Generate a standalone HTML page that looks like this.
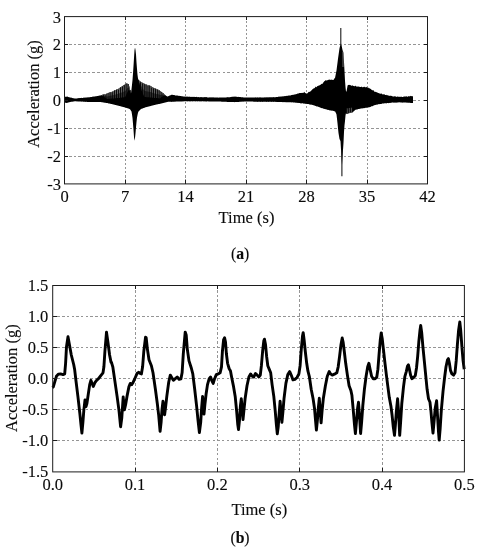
<!DOCTYPE html>
<html lang="en"><head><meta charset="utf-8"><title>Acceleration time histories</title>
<style>html,body{margin:0;padding:0;background:#fff;}svg{display:block;}text{font-family:"Liberation Serif", "Times New Roman", serif;fill:#0a0a0a;stroke:#0a0a0a;stroke-width:0.12px;}</style></head><body>
<svg width="478" height="550" viewBox="0 0 478 550">
<rect width="478" height="550" fill="#fff"/>
<line x1="125.00" y1="16.60" x2="125.00" y2="183.90" stroke="#959595" stroke-width="1" stroke-dasharray="2.2 1.87" shape-rendering="crispEdges"/>
<line x1="185.50" y1="16.60" x2="185.50" y2="183.90" stroke="#959595" stroke-width="1" stroke-dasharray="2.2 1.87" shape-rendering="crispEdges"/>
<line x1="246.00" y1="16.60" x2="246.00" y2="183.90" stroke="#959595" stroke-width="1" stroke-dasharray="2.2 1.87" shape-rendering="crispEdges"/>
<line x1="306.50" y1="16.60" x2="306.50" y2="183.90" stroke="#959595" stroke-width="1" stroke-dasharray="2.2 1.87" shape-rendering="crispEdges"/>
<line x1="367.00" y1="16.60" x2="367.00" y2="183.90" stroke="#959595" stroke-width="1" stroke-dasharray="2.2 1.87" shape-rendering="crispEdges"/>
<line x1="64.50" y1="44.48" x2="427.50" y2="44.48" stroke="#959595" stroke-width="1" stroke-dasharray="2.5 2.15" shape-rendering="crispEdges"/>
<line x1="64.50" y1="72.37" x2="427.50" y2="72.37" stroke="#959595" stroke-width="1" stroke-dasharray="2.5 2.15" shape-rendering="crispEdges"/>
<line x1="64.50" y1="100.25" x2="427.50" y2="100.25" stroke="#959595" stroke-width="1" stroke-dasharray="2.5 2.15" shape-rendering="crispEdges"/>
<line x1="64.50" y1="128.13" x2="427.50" y2="128.13" stroke="#959595" stroke-width="1" stroke-dasharray="2.5 2.15" shape-rendering="crispEdges"/>
<line x1="64.50" y1="156.02" x2="427.50" y2="156.02" stroke="#959595" stroke-width="1" stroke-dasharray="2.5 2.15" shape-rendering="crispEdges"/>
<polygon fill="#000" points="65.0,96.8 65.5,96.7 66.0,96.7 66.5,96.7 67.0,96.6 67.5,96.5 68.0,96.9 68.5,96.9 69.0,97.2 69.5,97.3 70.0,97.6 70.5,97.5 71.0,97.8 71.5,97.6 72.0,98.0 72.5,97.9 73.0,98.2 73.5,98.2 74.0,98.3 74.5,98.5 75.0,98.5 75.5,98.4 76.0,98.5 76.5,98.4 77.0,98.4 77.5,98.2 78.0,98.3 78.5,98.1 79.0,98.2 79.5,97.9 80.0,98.1 80.5,97.9 81.0,98.1 81.5,97.8 82.0,98.0 82.5,97.9 83.0,97.9 83.5,97.6 84.0,97.8 84.5,97.6 85.0,97.7 85.5,97.5 86.0,97.6 86.5,97.4 87.0,97.5 87.5,97.3 88.0,97.4 88.5,97.3 89.0,97.3 89.5,97.2 90.0,97.2 90.5,97.0 91.0,97.0 91.5,96.9 92.0,96.9 92.5,96.5 93.0,96.7 93.5,96.6 94.0,96.6 94.5,96.4 95.0,96.4 95.5,96.2 96.0,96.3 96.5,96.3 97.0,96.1 97.5,96.0 98.0,95.9 98.5,95.8 99.0,95.8 99.5,95.6 100.0,95.6 100.5,95.5 101.0,95.3 101.5,95.2 102.0,95.1 102.5,95.0 103.0,94.8 103.5,94.7 104.0,94.6 104.5,94.5 105.0,94.3 105.5,94.2 106.0,94.1 106.5,94.0 107.0,93.8 107.5,93.6 108.0,93.4 108.5,93.2 109.0,93.0 109.5,92.8 110.0,92.6 110.5,92.4 111.0,92.2 111.5,92.1 112.0,91.9 112.5,91.7 113.0,91.5 113.5,91.2 114.0,91.0 114.5,90.8 115.0,90.5 115.5,90.3 116.0,90.1 116.5,89.9 117.0,89.6 117.5,89.4 118.0,89.2 118.5,88.9 119.0,88.6 119.5,88.3 120.0,88.0 120.5,87.7 121.0,87.3 121.5,87.0 122.0,86.7 122.5,86.3 123.0,86.0 123.5,85.7 124.0,85.3 124.5,85.0 125.0,84.7 125.5,84.3 126.0,84.0 126.5,83.8 127.0,83.6 127.5,83.9 128.0,84.2 128.5,84.5 129.0,85.8 129.5,87.8 130.0,89.8 130.5,91.7 131.0,93.5 131.5,89.2 132.0,84.7 132.5,80.1 133.0,73.6 133.5,66.0 134.0,58.1 134.5,50.2 135.0,47.6 135.5,50.0 136.0,54.6 136.5,62.4 137.0,69.0 137.5,74.7 138.0,78.6 138.5,79.7 139.0,80.8 139.5,81.2 140.0,81.5 140.5,81.8 141.0,82.1 141.5,82.4 142.0,82.7 142.5,82.9 143.0,83.2 143.5,83.4 144.0,83.7 144.5,83.9 145.0,84.2 145.5,84.4 146.0,84.6 146.5,84.8 147.0,85.0 147.5,85.1 148.0,85.3 148.5,85.5 149.0,85.7 149.5,85.8 150.0,86.0 150.5,86.3 151.0,86.5 151.5,86.8 152.0,87.1 152.5,87.4 153.0,87.7 153.5,87.9 154.0,88.2 154.5,88.4 155.0,88.6 155.5,88.8 156.0,89.0 156.5,89.2 157.0,89.4 157.5,89.6 158.0,89.8 158.5,90.1 159.0,90.4 159.5,90.8 160.0,91.2 160.5,91.5 161.0,91.9 161.5,92.2 162.0,92.6 162.5,93.0 163.0,93.4 163.5,93.8 164.0,94.3 164.5,94.7 165.0,95.1 165.5,95.4 166.0,95.7 166.5,96.0 167.0,96.3 167.5,96.6 168.0,96.5 168.5,96.0 169.0,95.9 169.5,95.6 170.0,95.4 170.5,95.3 171.0,95.0 171.5,94.8 172.0,94.7 172.5,94.7 173.0,95.0 173.5,95.1 174.0,95.1 174.5,95.0 175.0,95.4 175.5,95.4 176.0,95.5 176.5,95.6 177.0,95.6 177.5,95.6 178.0,95.8 178.5,95.7 179.0,95.9 179.5,95.8 180.0,96.1 180.5,96.0 181.0,96.1 181.5,96.2 182.0,96.3 182.5,96.2 183.0,96.4 183.5,96.6 184.0,96.5 184.5,96.4 185.0,96.7 185.5,96.5 186.0,96.7 186.5,96.5 187.0,96.8 187.5,96.6 188.0,96.8 188.5,96.8 189.0,96.8 189.5,96.6 190.0,96.9 190.5,96.8 191.0,96.9 191.5,96.8 192.0,96.9 192.5,96.8 193.0,97.0 193.5,96.8 194.0,97.0 194.5,96.7 195.0,97.0 195.5,96.9 196.0,97.0 196.5,96.8 197.0,97.1 197.5,97.2 198.0,97.1 198.5,97.0 199.0,97.2 199.5,97.2 200.0,97.2 200.5,97.1 201.0,97.2 201.5,97.0 202.0,97.3 202.5,97.2 203.0,97.2 203.5,97.2 204.0,97.3 204.5,97.0 205.0,97.3 205.5,97.1 206.0,97.3 206.5,97.1 207.0,97.3 207.5,97.4 208.0,97.4 208.5,97.4 209.0,97.4 209.5,97.3 210.0,97.4 210.5,97.2 211.0,97.5 211.5,97.3 212.0,97.5 212.5,97.3 213.0,97.5 213.5,97.3 214.0,97.5 214.5,97.5 215.0,97.5 215.5,97.6 216.0,97.6 216.5,97.6 217.0,97.6 217.5,97.4 218.0,97.6 218.5,97.7 219.0,97.6 219.5,97.5 220.0,97.6 220.5,97.6 221.0,97.6 221.5,97.4 222.0,97.5 222.5,97.6 223.0,97.6 223.5,97.5 224.0,97.6 224.5,97.4 225.0,97.6 225.5,97.6 226.0,97.5 226.5,97.2 227.0,97.4 227.5,97.1 228.0,97.3 228.5,97.2 229.0,97.2 229.5,97.2 230.0,97.2 230.5,97.0 231.0,97.0 231.5,96.8 232.0,96.9 232.5,96.6 233.0,96.9 233.5,96.6 234.0,96.8 234.5,96.5 235.0,96.7 235.5,96.6 236.0,96.7 236.5,96.7 237.0,96.8 237.5,96.9 238.0,96.9 238.5,96.7 239.0,97.0 239.5,97.0 240.0,97.1 240.5,96.9 241.0,97.2 241.5,97.3 242.0,97.3 242.5,97.3 243.0,97.3 243.5,97.4 244.0,97.4 244.5,97.4 245.0,97.5 245.5,97.4 246.0,97.6 246.5,97.4 247.0,97.6 247.5,97.6 248.0,97.6 248.5,97.6 249.0,97.6 249.5,97.4 250.0,97.6 250.5,97.5 251.0,97.5 251.5,97.4 252.0,97.6 252.5,97.4 253.0,97.6 253.5,97.6 254.0,97.6 254.5,97.4 255.0,97.6 255.5,97.3 256.0,97.6 256.5,97.6 257.0,97.5 257.5,97.3 258.0,97.6 258.5,97.5 259.0,97.5 259.5,97.3 260.0,97.5 260.5,97.2 261.0,97.5 261.5,97.5 262.0,97.5 262.5,97.4 263.0,97.5 263.5,97.4 264.0,97.5 264.5,97.2 265.0,97.5 265.5,97.3 266.0,97.4 266.5,97.2 267.0,97.3 267.5,97.3 268.0,97.4 268.5,97.2 269.0,97.3 269.5,97.3 270.0,97.3 270.5,97.3 271.0,97.3 271.5,97.3 272.0,97.2 272.5,97.3 273.0,97.2 273.5,96.9 274.0,97.2 274.5,97.2 275.0,97.2 275.5,97.2 276.0,97.1 276.5,97.1 277.0,97.0 277.5,97.0 278.0,96.9 278.5,96.6 279.0,96.8 279.5,96.6 280.0,96.7 280.5,96.6 281.0,96.6 281.5,96.4 282.0,96.5 282.5,96.3 283.0,96.4 283.5,96.3 284.0,96.3 284.5,96.1 285.0,96.2 285.5,96.0 286.0,96.0 286.5,95.7 287.0,95.9 287.5,95.7 288.0,95.7 288.5,95.5 289.0,95.5 289.5,95.4 290.0,95.4 290.5,95.4 291.0,95.2 291.5,94.9 292.0,95.1 292.5,94.7 293.0,94.9 293.5,94.7 294.0,94.6 294.5,94.5 295.0,94.4 295.5,94.3 296.0,94.2 296.5,94.1 297.0,94.0 297.5,93.6 298.0,93.6 298.5,93.5 299.0,93.3 299.5,93.1 300.0,92.9 300.5,92.9 301.0,92.9 301.5,92.9 302.0,92.8 302.5,92.9 303.0,92.7 303.5,92.8 304.0,92.6 304.5,91.8 305.0,92.9 305.5,92.9 306.0,93.4 306.5,93.6 307.0,93.5 307.5,93.3 308.0,92.8 308.5,91.8 309.0,92.3 309.5,91.7 310.0,91.7 310.5,91.2 311.0,90.9 311.5,90.3 312.0,90.1 312.5,89.1 313.0,89.3 313.5,88.2 314.0,88.4 314.5,88.1 315.0,87.7 315.5,86.6 316.0,87.1 316.5,87.2 317.0,86.6 317.5,85.9 318.0,86.1 318.5,85.6 319.0,85.7 319.5,85.3 320.0,85.1 320.5,84.7 321.0,84.5 321.5,83.7 322.0,84.1 322.5,83.7 323.0,83.0 323.5,82.3 324.0,81.8 324.5,80.9 325.0,80.9 325.5,79.9 326.0,80.6 326.5,80.6 327.0,80.2 327.5,80.3 328.0,80.0 328.5,79.7 329.0,79.8 329.5,79.6 330.0,79.8 330.5,79.8 331.0,79.9 331.5,79.4 332.0,79.8 332.5,79.9 333.0,79.8 333.5,80.0 334.0,79.3 334.5,78.3 335.0,78.0 335.5,75.6 336.0,73.1 336.5,70.6 337.0,66.6 337.5,62.7 338.0,58.7 338.5,55.2 339.0,51.8 339.5,48.3 340.0,46.2 340.5,44.4 341.0,43.4 341.5,44.9 342.0,47.5 342.5,50.1 343.0,51.4 343.5,52.8 344.0,61.9 344.5,71.1 345.0,80.7 345.5,87.0 346.0,91.5 346.5,91.5 347.0,88.7 347.5,86.1 348.0,84.8 348.5,85.1 349.0,85.1 349.5,84.8 350.0,85.2 350.5,85.1 351.0,85.5 351.5,85.7 352.0,85.7 352.5,85.2 353.0,85.8 353.5,86.0 354.0,86.1 354.5,86.2 355.0,86.3 355.5,85.6 356.0,86.3 356.5,86.5 357.0,86.7 357.5,86.5 358.0,86.6 358.5,86.5 359.0,86.8 359.5,86.8 360.0,86.9 360.5,86.9 361.0,87.0 361.5,86.5 362.0,87.0 362.5,87.2 363.0,87.2 363.5,86.8 364.0,87.2 364.5,86.6 365.0,87.3 365.5,87.3 366.0,87.3 366.5,86.7 367.0,87.6 367.5,87.5 368.0,87.9 368.5,87.6 369.0,88.4 369.5,87.9 370.0,88.7 370.5,88.8 371.0,89.3 371.5,89.7 372.0,89.9 372.5,90.2 373.0,90.5 373.5,90.1 374.0,91.2 374.5,91.8 375.0,91.8 375.5,91.8 376.0,92.3 376.5,92.0 377.0,92.6 377.5,92.6 378.0,92.9 378.5,93.1 379.0,93.2 379.5,93.6 380.0,93.6 380.5,93.8 381.0,93.8 381.5,93.3 382.0,94.2 382.5,94.3 383.0,94.4 383.5,93.9 384.0,94.7 384.5,94.0 385.0,94.9 385.5,95.1 386.0,95.0 386.5,94.7 387.0,95.4 387.5,94.9 388.0,95.6 388.5,95.6 389.0,95.8 389.5,95.8 390.0,96.0 390.5,95.5 391.0,96.1 391.5,95.7 392.0,96.3 392.5,96.2 393.0,96.5 393.5,96.5 394.0,96.5 394.5,95.9 395.0,96.7 395.5,96.3 396.0,96.6 396.5,96.9 397.0,96.8 397.5,96.3 398.0,96.9 398.5,96.6 399.0,97.1 399.5,96.4 400.0,97.2 400.5,96.5 401.0,97.1 401.5,96.6 402.0,97.0 402.5,96.9 403.0,97.0 403.5,96.6 404.0,96.7 404.5,96.2 405.0,96.7 405.5,96.3 406.0,96.8 406.5,96.0 407.0,96.7 407.5,96.7 408.0,96.5 408.5,96.1 409.0,96.5 409.5,96.3 410.0,96.3 410.5,95.7 411.0,96.2 411.5,95.9 412.0,96.2 412.5,96.2 413.0,96.2 413.0,102.9 412.5,102.9 412.0,102.9 411.5,103.0 411.0,102.9 410.5,103.0 410.0,102.8 409.5,102.8 409.0,102.7 408.5,102.7 408.0,102.7 407.5,102.7 407.0,102.6 406.5,102.7 406.0,102.6 405.5,102.6 405.0,102.5 404.5,102.6 404.0,102.5 403.5,102.5 403.0,102.4 402.5,102.7 402.0,102.4 401.5,102.4 401.0,102.4 400.5,102.4 400.0,102.3 399.5,102.3 399.0,102.4 398.5,102.3 398.0,102.4 397.5,102.4 397.0,102.4 396.5,102.8 396.0,102.5 395.5,102.7 395.0,102.5 394.5,102.8 394.0,102.6 393.5,102.8 393.0,102.6 392.5,102.5 392.0,102.6 391.5,102.7 391.0,102.7 390.5,102.9 390.0,102.8 389.5,103.0 389.0,102.9 388.5,103.2 388.0,103.0 387.5,103.0 387.0,103.1 386.5,103.5 386.0,103.2 385.5,103.2 385.0,103.3 384.5,103.3 384.0,103.4 383.5,103.5 383.0,103.5 382.5,103.6 382.0,103.6 381.5,103.9 381.0,103.9 380.5,103.9 380.0,104.0 379.5,104.2 379.0,104.1 378.5,104.3 378.0,104.3 377.5,104.7 377.0,104.5 376.5,104.7 376.0,104.7 375.5,104.9 375.0,104.9 374.5,105.3 374.0,105.3 373.5,105.8 373.0,105.7 372.5,106.3 372.0,106.2 371.5,106.3 371.0,106.6 370.5,106.9 370.0,107.1 369.5,107.2 369.0,107.2 368.5,107.4 368.0,107.3 367.5,107.4 367.0,107.5 366.5,107.9 366.0,107.6 365.5,108.0 365.0,107.8 364.5,108.2 364.0,107.9 363.5,108.3 363.0,108.2 362.5,108.5 362.0,108.3 361.5,108.4 361.0,108.5 360.5,108.7 360.0,108.6 359.5,109.0 359.0,108.9 358.5,109.1 358.0,109.1 357.5,109.6 357.0,109.4 356.5,109.5 356.0,109.7 355.5,109.8 355.0,110.1 354.5,110.8 354.0,111.0 353.5,111.4 353.0,112.1 352.5,112.6 352.0,112.3 351.5,112.6 351.0,112.6 350.5,112.7 350.0,112.9 349.5,113.0 349.0,113.1 348.5,113.2 348.0,113.4 347.5,113.8 347.0,113.6 346.5,113.4 346.0,113.1 345.5,115.4 345.0,121.1 344.5,125.3 344.0,132.1 343.5,142.7 343.0,150.1 342.5,157.6 342.0,165.0 341.5,158.6 341.0,149.6 340.5,141.2 340.0,140.1 339.5,139.0 339.0,136.0 338.5,132.9 338.0,128.3 337.5,123.3 337.0,118.8 336.5,114.4 336.0,113.3 335.5,112.2 335.0,111.2 334.5,111.4 334.0,110.9 333.5,110.9 333.0,110.7 332.5,110.8 332.0,110.6 331.5,110.8 331.0,110.4 330.5,110.5 330.0,110.3 329.5,110.5 329.0,110.1 328.5,109.9 328.0,109.8 327.5,110.0 327.0,109.6 326.5,109.5 326.0,109.3 325.5,109.3 325.0,109.1 324.5,109.0 324.0,108.8 323.5,108.8 323.0,108.5 322.5,108.2 322.0,108.1 321.5,108.2 321.0,107.8 320.5,107.7 320.0,107.4 319.5,107.3 319.0,107.0 318.5,106.9 318.0,106.6 317.5,106.6 317.0,106.4 316.5,106.5 316.0,106.0 315.5,105.9 315.0,105.7 314.5,105.6 314.0,105.4 313.5,105.2 313.0,105.1 312.5,104.9 312.0,104.8 311.5,104.8 311.0,104.6 310.5,104.7 310.0,104.4 309.5,104.5 309.0,104.3 308.5,104.1 308.0,104.1 307.5,104.0 307.0,103.9 306.5,103.7 306.0,103.7 305.5,104.0 305.0,103.6 304.5,103.7 304.0,103.5 303.5,103.7 303.0,103.3 302.5,103.2 302.0,103.3 301.5,103.6 301.0,103.2 300.5,103.4 300.0,103.0 299.5,103.0 299.0,102.9 298.5,103.0 298.0,102.8 297.5,102.9 297.0,102.8 296.5,102.7 296.0,102.7 295.5,102.7 295.0,102.6 294.5,102.6 294.0,102.5 293.5,102.4 293.0,102.4 292.5,102.3 292.0,102.3 291.5,102.4 291.0,102.3 290.5,102.3 290.0,102.3 289.5,102.3 289.0,102.2 288.5,102.2 288.0,102.2 287.5,102.3 287.0,102.2 286.5,102.2 286.0,102.2 285.5,102.2 285.0,102.1 284.5,102.3 284.0,102.1 283.5,102.2 283.0,102.1 282.5,102.2 282.0,102.1 281.5,102.1 281.0,102.0 280.5,102.0 280.0,102.0 279.5,102.1 279.0,101.9 278.5,102.0 278.0,101.9 277.5,101.9 277.0,101.9 276.5,102.0 276.0,101.8 275.5,101.9 275.0,101.8 274.5,101.8 274.0,101.8 273.5,101.9 273.0,101.8 272.5,101.8 272.0,101.8 271.5,101.9 271.0,101.8 270.5,101.8 270.0,101.8 269.5,101.8 269.0,101.8 268.5,101.9 268.0,101.8 267.5,101.8 267.0,101.8 266.5,101.9 266.0,101.8 265.5,101.8 265.0,101.8 264.5,101.8 264.0,101.8 263.5,101.8 263.0,101.8 262.5,101.9 262.0,101.8 261.5,101.8 261.0,101.8 260.5,101.9 260.0,101.8 259.5,101.8 259.0,101.8 258.5,101.8 258.0,101.8 257.5,101.9 257.0,101.8 256.5,101.7 256.0,101.7 255.5,101.7 255.0,101.7 254.5,101.7 254.0,101.7 253.5,101.7 253.0,101.6 252.5,101.6 252.0,101.6 251.5,101.6 251.0,101.6 250.5,101.5 250.0,101.5 249.5,101.6 249.0,101.5 248.5,101.6 248.0,101.5 247.5,101.6 247.0,101.5 246.5,101.4 246.0,101.4 245.5,101.4 245.0,101.5 244.5,101.6 244.0,101.5 243.5,101.7 243.0,101.6 242.5,101.7 242.0,101.6 241.5,101.8 241.0,101.7 240.5,101.7 240.0,101.8 239.5,101.8 239.0,101.9 238.5,101.9 238.0,101.9 237.5,102.1 237.0,102.0 236.5,102.1 236.0,102.0 235.5,102.1 235.0,102.1 234.5,102.2 234.0,102.1 233.5,102.1 233.0,102.0 232.5,102.1 232.0,102.0 231.5,102.1 231.0,102.0 230.5,102.0 230.0,102.0 229.5,102.0 229.0,101.9 228.5,102.0 228.0,101.9 227.5,102.0 227.0,101.9 226.5,101.8 226.0,101.8 225.5,101.8 225.0,101.8 224.5,101.7 224.0,101.8 223.5,101.7 223.0,101.7 222.5,101.7 222.0,101.7 221.5,101.7 221.0,101.6 220.5,101.5 220.0,101.6 219.5,101.5 219.0,101.5 218.5,101.6 218.0,101.5 217.5,101.4 217.0,101.4 216.5,101.4 216.0,101.4 215.5,101.4 215.0,101.4 214.5,101.4 214.0,101.4 213.5,101.4 213.0,101.4 212.5,101.4 212.0,101.4 211.5,101.4 211.0,101.4 210.5,101.4 210.0,101.4 209.5,101.4 209.0,101.4 208.5,101.4 208.0,101.3 207.5,101.3 207.0,101.4 206.5,101.4 206.0,101.4 205.5,101.4 205.0,101.3 204.5,101.4 204.0,101.3 203.5,101.4 203.0,101.3 202.5,101.3 202.0,101.3 201.5,101.4 201.0,101.3 200.5,101.4 200.0,101.3 199.5,101.4 199.0,101.3 198.5,101.3 198.0,101.3 197.5,101.4 197.0,101.3 196.5,101.3 196.0,101.3 195.5,101.4 195.0,101.3 194.5,101.3 194.0,101.3 193.5,101.3 193.0,101.3 192.5,101.4 192.0,101.3 191.5,101.3 191.0,101.3 190.5,101.4 190.0,101.3 189.5,101.4 189.0,101.3 188.5,101.3 188.0,101.3 187.5,101.4 187.0,101.3 186.5,101.3 186.0,101.3 185.5,101.3 185.0,101.3 184.5,101.3 184.0,101.3 183.5,101.4 183.0,101.3 182.5,101.4 182.0,101.4 181.5,101.4 181.0,101.4 180.5,101.4 180.0,101.4 179.5,101.5 179.0,101.4 178.5,101.5 178.0,101.4 177.5,101.4 177.0,101.5 176.5,101.6 176.0,101.6 175.5,101.7 175.0,101.6 174.5,101.7 174.0,101.7 173.5,101.8 173.0,101.7 172.5,101.7 172.0,101.8 171.5,101.9 171.0,101.8 170.5,101.8 170.0,101.8 169.5,101.8 169.0,101.8 168.5,101.8 168.0,101.8 167.5,101.9 167.0,102.0 166.5,102.2 166.0,102.3 165.5,102.4 165.0,102.6 164.5,102.7 164.0,102.8 163.5,103.0 163.0,103.1 162.5,103.2 162.0,103.3 161.5,103.4 161.0,103.6 160.5,103.7 160.0,103.8 159.5,103.9 159.0,104.0 158.5,104.1 158.0,104.2 157.5,104.3 157.0,104.4 156.5,104.5 156.0,104.6 155.5,104.7 155.0,104.9 154.5,105.0 154.0,105.1 153.5,105.2 153.0,105.4 152.5,105.5 152.0,105.6 151.5,105.8 151.0,105.9 150.5,106.0 150.0,106.2 149.5,106.3 149.0,106.4 148.5,106.5 148.0,106.7 147.5,106.8 147.0,106.9 146.5,107.0 146.0,107.2 145.5,107.3 145.0,107.5 144.5,107.7 144.0,107.9 143.5,108.1 143.0,108.3 142.5,108.5 142.0,108.7 141.5,108.8 141.0,109.0 140.5,109.4 140.0,109.9 139.5,110.4 139.0,110.9 138.5,111.4 138.0,112.7 137.5,115.1 137.0,117.5 136.5,122.1 136.0,127.2 135.5,133.3 135.0,138.1 134.5,140.7 134.0,136.9 133.5,129.7 133.0,123.7 132.5,118.0 132.0,114.5 131.5,111.5 131.0,110.8 130.5,110.0 130.0,109.3 129.5,109.0 129.0,108.8 128.5,108.6 128.0,108.5 127.5,108.3 127.0,108.1 126.5,107.9 126.0,107.8 125.5,107.6 125.0,107.5 124.5,107.3 124.0,107.2 123.5,107.1 123.0,106.9 122.5,106.8 122.0,106.7 121.5,106.5 121.0,106.4 120.5,106.3 120.0,106.1 119.5,106.0 119.0,105.9 118.5,105.8 118.0,105.6 117.5,105.5 117.0,105.4 116.5,105.2 116.0,105.1 115.5,105.0 115.0,104.9 114.5,104.8 114.0,104.6 113.5,104.5 113.0,104.4 112.5,104.3 112.0,104.1 111.5,104.0 111.0,103.9 110.5,103.8 110.0,103.7 109.5,103.6 109.0,103.5 108.5,103.4 108.0,103.3 107.5,103.1 107.0,103.0 106.5,102.9 106.0,102.9 105.5,102.8 105.0,102.7 104.5,102.7 104.0,102.6 103.5,102.5 103.0,102.4 102.5,102.3 102.0,102.3 101.5,102.2 101.0,102.1 100.5,102.0 100.0,101.9 99.5,101.9 99.0,101.9 98.5,101.9 98.0,101.9 97.5,102.0 97.0,102.0 96.5,101.9 96.0,102.0 95.5,102.0 95.0,102.0 94.5,101.9 94.0,102.0 93.5,102.0 93.0,102.0 92.5,102.0 92.0,102.0 91.5,102.1 91.0,102.0 90.5,102.1 90.0,102.0 89.5,102.1 89.0,102.0 88.5,102.1 88.0,102.0 87.5,101.9 87.0,101.9 86.5,101.8 86.0,101.8 85.5,101.9 85.0,101.8 84.5,101.8 84.0,101.7 83.5,101.7 83.0,101.7 82.5,101.6 82.0,101.6 81.5,101.7 81.0,101.5 80.5,101.6 80.0,101.5 79.5,101.5 79.0,101.5 78.5,101.4 78.0,101.4 77.5,101.5 77.0,101.3 76.5,101.4 76.0,101.3 75.5,101.2 75.0,101.2 74.5,101.3 74.0,101.4 73.5,101.6 73.0,101.5 72.5,101.7 72.0,101.7 71.5,101.8 71.0,101.8 70.5,102.0 70.0,102.0 69.5,102.2 69.0,102.3 68.5,102.4 68.0,102.6 67.5,102.8 67.0,102.9 66.5,103.0 66.0,102.8 65.5,102.8 65.0,102.7"/>
<polygon fill="#333" points="101.0,95.1 101.5,95.0 102.0,94.9 102.5,94.8 103.0,94.6 103.5,94.5 104.0,94.4 104.5,94.3 105.0,94.1 105.5,94.0 106.0,93.9 106.5,93.8 107.0,93.6 107.5,93.4 108.0,93.2 108.5,93.0 109.0,92.8 109.5,92.6 110.0,92.4 110.5,92.2 111.0,92.0 111.5,91.9 112.0,91.7 112.5,91.5 113.0,91.3 113.5,91.0 114.0,90.8 114.5,90.6 115.0,90.3 115.5,90.1 116.0,89.9 116.5,89.7 117.0,89.4 117.5,89.2 118.0,89.0 118.5,88.7 119.0,88.4 119.5,88.1 120.0,87.8 120.5,87.5 121.0,87.1 121.5,86.8 122.0,86.5 122.5,86.1 123.0,85.8 123.5,85.5 124.0,85.1 124.5,84.8 125.0,84.5 125.5,84.1 126.0,83.8 126.5,83.6 127.0,83.4 127.5,83.7 128.0,84.0 128.5,84.3 129.0,85.6 129.5,87.6 130.0,89.6 130.5,91.5 131.0,93.3 131.0,93.7 130.5,92.5 130.0,91.5 129.5,90.6 129.0,90.0 128.5,90.2 128.0,91.0 127.5,92.0 127.0,92.9 126.5,94.1 126.0,95.3 125.5,96.4 125.0,97.1 124.5,97.2 124.0,97.3 123.5,97.3 123.0,97.4 122.5,97.5 122.0,97.5 121.5,97.6 121.0,97.7 120.5,97.7 120.0,97.8 119.5,97.9 119.0,97.9 118.5,98.0 118.0,98.0 117.5,98.1 117.0,98.1 116.5,98.2 116.0,98.2 115.5,98.3 115.0,98.3 114.5,98.4 114.0,98.4 113.5,98.4 113.0,98.5 112.5,98.5 112.0,98.6 111.5,98.6 111.0,98.6 110.5,98.7 110.0,98.7 109.5,98.8 109.0,98.8 108.5,98.8 108.0,98.9 107.5,98.9 107.0,99.0 106.5,98.6 106.0,98.2 105.5,97.8 105.0,97.5 104.5,97.2 104.0,96.8 103.5,96.6 103.0,96.3 102.5,96.0 102.0,95.8 101.5,95.6 101.0,95.3"/>
<polygon fill="#686868" points="101.0,95.1 101.5,95.0 102.0,94.9 102.5,94.8 103.0,94.6 103.5,94.5 104.0,94.4 104.5,94.3 105.0,94.1 105.5,94.0 106.0,93.9 106.5,93.8 107.0,93.6 107.5,93.4 108.0,93.2 108.5,93.0 109.0,92.8 109.5,92.6 110.0,92.4 110.5,92.2 111.0,92.0 111.5,91.9 112.0,91.7 112.5,91.5 113.0,91.3 113.5,91.0 114.0,90.8 114.5,90.6 115.0,90.3 115.5,90.1 116.0,89.9 116.5,89.7 117.0,89.4 117.5,89.2 118.0,89.0 118.5,88.7 119.0,88.4 119.5,88.1 120.0,87.8 120.5,87.5 121.0,87.1 121.5,86.8 122.0,86.5 122.5,86.1 123.0,85.8 123.5,85.5 124.0,85.1 124.5,84.8 125.0,84.5 125.5,84.1 126.0,83.8 126.5,83.6 127.0,83.4 127.5,83.7 128.0,84.0 128.5,84.3 129.0,85.6 129.5,87.6 130.0,89.6 130.5,91.5 131.0,93.3 131.0,93.6 130.5,92.1 130.0,90.7 129.5,89.3 129.0,88.0 128.5,87.5 128.0,87.8 127.5,88.1 127.0,88.5 126.5,89.2 126.0,89.9 125.5,90.7 125.0,91.2 124.5,91.4 124.0,91.6 123.5,91.8 123.0,92.0 122.5,92.2 122.0,92.4 121.5,92.6 121.0,92.8 120.5,92.9 120.0,93.1 119.5,93.3 119.0,93.5 118.5,93.7 118.0,93.8 117.5,94.0 117.0,94.1 116.5,94.2 116.0,94.4 115.5,94.5 115.0,94.6 114.5,94.8 114.0,94.9 113.5,95.0 113.0,95.2 112.5,95.3 112.0,95.4 111.5,95.5 111.0,95.6 110.5,95.7 110.0,95.8 109.5,95.9 109.0,96.1 108.5,96.2 108.0,96.3 107.5,96.4 107.0,96.5 106.5,96.4 106.0,96.2 105.5,96.1 105.0,96.0 104.5,95.9 104.0,95.8 103.5,95.7 103.0,95.6 102.5,95.5 102.0,95.4 101.5,95.4 101.0,95.3"/>
<path d="M101.40 95.5 V100.2M103.34 94.8 V100.2M105.12 94.9 V100.2M106.93 93.8 V100.2M108.98 92.8 V100.2M110.88 92.4 V100.2M112.70 92.1 V100.2M114.57 90.5 V100.2M116.47 89.6 V100.2M118.43 89.5 V100.2M120.45 87.4 V100.2M122.40 86.4 V100.2M124.29 85.1 V100.2M126.14 83.8 V100.2M128.07 84.0 V100.2M130.11 90.0 V100.2" stroke="#000" stroke-width="0.95" fill="none"/>
<polygon fill="#333" points="138.5,79.5 139.0,80.6 139.5,81.0 140.0,81.3 140.5,81.6 141.0,81.9 141.5,82.2 142.0,82.5 142.5,82.7 143.0,83.0 143.5,83.2 144.0,83.5 144.5,83.7 145.0,84.0 145.5,84.2 146.0,84.4 146.5,84.6 147.0,84.8 147.5,84.9 148.0,85.1 148.5,85.3 149.0,85.5 149.5,85.6 150.0,85.8 150.5,86.1 151.0,86.3 151.5,86.6 152.0,86.9 152.5,87.2 153.0,87.5 153.5,87.7 154.0,88.0 154.5,88.2 155.0,88.4 155.5,88.6 156.0,88.8 156.5,89.0 157.0,89.2 157.5,89.4 158.0,89.6 158.5,89.9 159.0,90.2 159.5,90.6 160.0,91.0 160.5,91.3 161.0,91.7 161.5,92.0 162.0,92.4 162.5,92.8 163.0,93.2 163.5,93.6 164.0,94.1 164.5,94.5 165.0,94.9 165.5,95.2 166.0,95.5 166.0,95.7 165.5,95.7 165.0,95.8 164.5,95.8 164.0,95.9 163.5,96.0 163.0,96.2 162.5,96.4 162.0,96.7 161.5,97.0 161.0,97.5 160.5,97.9 160.0,98.4 159.5,98.4 159.0,98.3 158.5,98.2 158.0,98.2 157.5,98.1 157.0,98.1 156.5,98.0 156.0,98.0 155.5,98.0 155.0,97.9 154.5,97.9 154.0,97.8 153.5,97.8 153.0,97.7 152.5,97.7 152.0,97.6 151.5,97.6 151.0,97.5 150.5,97.5 150.0,97.4 149.5,97.4 149.0,97.3 148.5,97.3 148.0,97.3 147.5,97.2 147.0,97.2 146.5,97.2 146.0,97.1 145.5,97.1 145.0,97.0 144.5,97.0 144.0,96.3 143.5,95.1 143.0,93.9 142.5,92.6 142.0,91.4 141.5,90.0 141.0,88.6 140.5,87.2 140.0,85.8 139.5,84.3 139.0,82.6 138.5,80.3"/>
<polygon fill="#686868" points="138.5,79.5 139.0,80.6 139.5,81.0 140.0,81.3 140.5,81.6 141.0,81.9 141.5,82.2 142.0,82.5 142.5,82.7 143.0,83.0 143.5,83.2 144.0,83.5 144.5,83.7 145.0,84.0 145.5,84.2 146.0,84.4 146.5,84.6 147.0,84.8 147.5,84.9 148.0,85.1 148.5,85.3 149.0,85.5 149.5,85.6 150.0,85.8 150.5,86.1 151.0,86.3 151.5,86.6 152.0,86.9 152.5,87.2 153.0,87.5 153.5,87.7 154.0,88.0 154.5,88.2 155.0,88.4 155.5,88.6 156.0,88.8 156.5,89.0 157.0,89.2 157.5,89.4 158.0,89.6 158.5,89.9 159.0,90.2 159.5,90.6 160.0,91.0 160.5,91.3 161.0,91.7 161.5,92.0 162.0,92.4 162.5,92.8 163.0,93.2 163.5,93.6 164.0,94.1 164.5,94.5 165.0,94.9 165.5,95.2 166.0,95.5 166.0,95.7 165.5,95.6 165.0,95.5 164.5,95.3 164.0,95.1 163.5,95.0 163.0,94.9 162.5,94.8 162.0,94.7 161.5,94.8 161.0,94.8 160.5,94.9 160.0,95.0 159.5,94.8 159.0,94.6 158.5,94.3 158.0,94.2 157.5,94.1 157.0,94.0 156.5,93.9 156.0,93.7 155.5,93.6 155.0,93.5 154.5,93.4 154.0,93.3 153.5,93.1 153.0,92.9 152.5,92.8 152.0,92.6 151.5,92.5 151.0,92.3 150.5,92.1 150.0,92.0 149.5,91.9 149.0,91.8 148.5,91.7 148.0,91.6 147.5,91.5 147.0,91.4 146.5,91.3 146.0,91.2 145.5,91.1 145.0,90.9 144.5,90.8 144.0,90.3 143.5,89.6 143.0,88.8 142.5,88.0 142.0,87.2 141.5,86.4 141.0,85.5 140.5,84.7 140.0,83.8 139.5,82.8 139.0,81.7 138.5,80.0"/>
<path d="M138.70 80.0 V100.2M140.48 82.2 V100.2M142.38 83.3 V100.2M144.29 84.1 V100.2M146.06 85.0 V100.2M147.97 85.9 V100.2M149.72 85.7 V100.2M151.67 87.5 V100.2M153.55 88.3 V100.2M155.46 88.9 V100.2M157.35 89.8 V100.2M159.11 90.5 V100.2M161.08 91.9 V100.2M162.98 93.3 V100.2M164.83 95.2 V100.2" stroke="#000" stroke-width="0.95" fill="none"/>
<polygon fill="#555" points="346.5,113.6 347.0,113.8 347.5,114.0 348.0,113.6 348.5,113.4 349.0,113.3 349.5,113.2 350.0,113.1 350.5,112.9 351.0,112.8 351.5,112.8 352.0,112.5 352.5,112.8 352.5,107.6 352.0,107.5 351.5,107.7 351.0,107.7 350.5,107.7 350.0,107.8 349.5,107.9 349.0,108.0 348.5,108.0 348.0,108.1 347.5,108.4 347.0,108.3 346.5,108.1"/>
<path d="M346.80 100.2 V113.9M348.70 100.2 V113.0M350.60 100.2 V112.3M352.50 100.2 V111.9" stroke="#000" stroke-width="0.95" fill="none"/>
<line x1="343.0" y1="51.5" x2="343.0" y2="67" stroke="#bbb" stroke-width="0.6"/>
<line x1="340.80" y1="28.00" x2="340.80" y2="45.50" stroke="#1a1a1a" stroke-width="1.1"/>
<line x1="341.90" y1="150.00" x2="341.90" y2="176.30" stroke="#1a1a1a" stroke-width="1.1"/>
<rect x="64.50" y="16.60" width="363.00" height="167.30" fill="none" stroke="#1c1c1c" stroke-width="1"/>
<line x1="125.00" y1="183.90" x2="125.00" y2="180.10" stroke="#1c1c1c" stroke-width="1" shape-rendering="crispEdges"/>
<line x1="125.00" y1="16.60" x2="125.00" y2="20.40" stroke="#1c1c1c" stroke-width="1" shape-rendering="crispEdges"/>
<line x1="185.50" y1="183.90" x2="185.50" y2="180.10" stroke="#1c1c1c" stroke-width="1" shape-rendering="crispEdges"/>
<line x1="185.50" y1="16.60" x2="185.50" y2="20.40" stroke="#1c1c1c" stroke-width="1" shape-rendering="crispEdges"/>
<line x1="246.00" y1="183.90" x2="246.00" y2="180.10" stroke="#1c1c1c" stroke-width="1" shape-rendering="crispEdges"/>
<line x1="246.00" y1="16.60" x2="246.00" y2="20.40" stroke="#1c1c1c" stroke-width="1" shape-rendering="crispEdges"/>
<line x1="306.50" y1="183.90" x2="306.50" y2="180.10" stroke="#1c1c1c" stroke-width="1" shape-rendering="crispEdges"/>
<line x1="306.50" y1="16.60" x2="306.50" y2="20.40" stroke="#1c1c1c" stroke-width="1" shape-rendering="crispEdges"/>
<line x1="367.00" y1="183.90" x2="367.00" y2="180.10" stroke="#1c1c1c" stroke-width="1" shape-rendering="crispEdges"/>
<line x1="367.00" y1="16.60" x2="367.00" y2="20.40" stroke="#1c1c1c" stroke-width="1" shape-rendering="crispEdges"/>
<line x1="64.50" y1="44.48" x2="68.30" y2="44.48" stroke="#1c1c1c" stroke-width="1" shape-rendering="crispEdges"/>
<line x1="427.50" y1="44.48" x2="423.70" y2="44.48" stroke="#1c1c1c" stroke-width="1" shape-rendering="crispEdges"/>
<line x1="64.50" y1="72.37" x2="68.30" y2="72.37" stroke="#1c1c1c" stroke-width="1" shape-rendering="crispEdges"/>
<line x1="427.50" y1="72.37" x2="423.70" y2="72.37" stroke="#1c1c1c" stroke-width="1" shape-rendering="crispEdges"/>
<line x1="64.50" y1="100.25" x2="68.30" y2="100.25" stroke="#1c1c1c" stroke-width="1" shape-rendering="crispEdges"/>
<line x1="427.50" y1="100.25" x2="423.70" y2="100.25" stroke="#1c1c1c" stroke-width="1" shape-rendering="crispEdges"/>
<line x1="64.50" y1="128.13" x2="68.30" y2="128.13" stroke="#1c1c1c" stroke-width="1" shape-rendering="crispEdges"/>
<line x1="427.50" y1="128.13" x2="423.70" y2="128.13" stroke="#1c1c1c" stroke-width="1" shape-rendering="crispEdges"/>
<line x1="64.50" y1="156.02" x2="68.30" y2="156.02" stroke="#1c1c1c" stroke-width="1" shape-rendering="crispEdges"/>
<line x1="427.50" y1="156.02" x2="423.70" y2="156.02" stroke="#1c1c1c" stroke-width="1" shape-rendering="crispEdges"/>
<text x="64.50" y="202.00" font-size="16.50" text-anchor="middle">0</text>
<text x="125.00" y="202.00" font-size="16.50" text-anchor="middle">7</text>
<text x="185.50" y="202.00" font-size="16.50" text-anchor="middle">14</text>
<text x="246.00" y="202.00" font-size="16.50" text-anchor="middle">21</text>
<text x="306.50" y="202.00" font-size="16.50" text-anchor="middle">28</text>
<text x="367.00" y="202.00" font-size="16.50" text-anchor="middle">35</text>
<text x="427.50" y="202.00" font-size="16.50" text-anchor="middle">42</text>
<text x="61.00" y="22.58" font-size="16.50" text-anchor="end">3</text>
<text x="61.00" y="50.46" font-size="16.50" text-anchor="end">2</text>
<text x="61.00" y="78.34" font-size="16.50" text-anchor="end">1</text>
<text x="61.00" y="106.23" font-size="16.50" text-anchor="end">0</text>
<text x="61.00" y="134.11" font-size="16.50" text-anchor="end">-1</text>
<text x="61.00" y="161.99" font-size="16.50" text-anchor="end">-2</text>
<text x="61.00" y="189.88" font-size="16.50" text-anchor="end">-3</text>
<text x="246.50" y="223.30" font-size="16.50" text-anchor="middle">Time (s)</text>
<text transform="translate(38.60 94.00) rotate(-90)" font-size="16.50" text-anchor="middle">Acceleration (g)</text>
<text x="240.10" y="259.20" font-size="15.70" text-anchor="middle">(<tspan font-weight="bold">a</tspan>)</text>
<line x1="135.04" y1="285.50" x2="135.04" y2="471.90" stroke="#959595" stroke-width="1" stroke-dasharray="2.5 2.15" shape-rendering="crispEdges"/>
<line x1="217.38" y1="285.50" x2="217.38" y2="471.90" stroke="#959595" stroke-width="1" stroke-dasharray="2.5 2.15" shape-rendering="crispEdges"/>
<line x1="299.72" y1="285.50" x2="299.72" y2="471.90" stroke="#959595" stroke-width="1" stroke-dasharray="2.5 2.15" shape-rendering="crispEdges"/>
<line x1="382.06" y1="285.50" x2="382.06" y2="471.90" stroke="#959595" stroke-width="1" stroke-dasharray="2.5 2.15" shape-rendering="crispEdges"/>
<line x1="52.70" y1="316.57" x2="464.40" y2="316.57" stroke="#959595" stroke-width="1" stroke-dasharray="2.5 2.2" shape-rendering="crispEdges"/>
<line x1="52.70" y1="347.63" x2="464.40" y2="347.63" stroke="#959595" stroke-width="1" stroke-dasharray="2.5 2.2" shape-rendering="crispEdges"/>
<line x1="52.70" y1="378.70" x2="464.40" y2="378.70" stroke="#959595" stroke-width="1" stroke-dasharray="2.5 2.2" shape-rendering="crispEdges"/>
<line x1="52.70" y1="409.77" x2="464.40" y2="409.77" stroke="#959595" stroke-width="1" stroke-dasharray="2.5 2.2" shape-rendering="crispEdges"/>
<line x1="52.70" y1="440.83" x2="464.40" y2="440.83" stroke="#959595" stroke-width="1" stroke-dasharray="2.5 2.2" shape-rendering="crispEdges"/>
<polyline fill="none" stroke="#000" stroke-width="2.9" stroke-linejoin="round" stroke-linecap="butt" points="52.4,387.6 53.3,386.9 54.7,382.2 56.4,376.3 58.3,374.2 60.6,373.9 63.0,374.6 64.7,373.9 65.6,363.3 66.5,346.7 68.0,336.8 69.4,344.4 71.3,355.0 73.7,364.5 74.6,369.2 76.0,381.0 77.9,396.4 79.8,413.0 81.0,424.8 81.9,433.1 82.9,422.4 83.8,410.6 85.0,399.9 86.0,406.6 86.9,403.5 88.3,394.0 89.7,384.6 90.9,380.3 92.1,383.4 93.3,386.5 94.9,382.7 96.6,380.3 98.5,378.7 100.8,375.6 103.0,372.8 103.9,366.8 104.9,351.5 106.5,332.1 107.9,342.0 109.6,355.0 111.0,362.1 111.4,362.1 112.8,366.8 114.7,379.9 117.1,396.4 119.0,410.6 120.6,426.7 121.8,417.7 123.2,396.9 124.4,409.9 125.6,404.7 127.0,396.4 128.9,386.9 130.3,383.4 131.8,384.6 133.2,382.2 135.1,378.0 137.2,373.2 138.8,372.3 140.3,373.5 141.4,373.9 142.6,366.8 143.8,351.5 145.5,337.3 146.2,337.8 147.4,349.1 149.0,359.8 151.4,365.7 153.0,372.8 155.4,389.3 157.3,403.5 158.7,415.3 160.1,431.4 161.1,422.4 162.0,409.4 163.0,401.1 163.9,409.4 164.6,414.9 165.6,407.1 166.8,396.4 168.7,382.2 170.3,375.1 172.0,378.0 173.4,380.3 175.3,378.7 177.2,377.0 179.1,379.4 180.9,378.9 182.1,372.8 183.3,353.8 185.2,332.1 186.2,334.9 187.3,349.1 189.0,360.9 191.3,368.0 192.8,373.9 194.7,389.3 196.6,405.9 198.0,420.1 199.4,432.6 200.7,422.4 201.6,408.2 202.6,396.4 203.3,405.9 204.0,414.1 204.9,404.7 206.1,394.0 207.5,384.6 209.2,378.7 210.6,377.0 212.0,381.0 213.2,383.4 214.6,378.7 216.3,374.6 218.2,373.9 220.1,372.8 221.5,366.8 222.4,351.5 223.6,339.6 224.6,337.8 225.5,342.0 226.4,353.8 227.6,363.3 229.1,368.5 230.5,370.9 231.7,377.5 233.6,386.9 235.2,396.4 236.6,410.6 237.8,424.8 238.5,429.5 239.5,420.1 240.4,405.9 241.3,398.8 242.1,408.2 243.0,419.6 243.9,410.6 245.1,398.8 247.0,385.8 248.9,377.0 250.6,373.9 252.2,376.3 253.7,377.0 255.5,373.5 257.2,375.1 258.9,377.0 260.3,375.1 261.4,365.7 262.6,351.5 263.8,340.8 264.5,339.2 265.5,344.4 266.6,356.2 267.8,365.7 269.5,369.9 270.7,372.8 272.1,384.6 273.8,396.4 275.2,410.6 276.4,424.8 277.3,433.8 278.2,427.1 279.2,413.0 280.1,401.1 280.9,410.6 281.9,422.4 282.8,413.0 284.0,398.8 285.9,383.4 287.8,374.6 289.7,371.6 291.4,375.6 293.0,379.9 294.9,379.4 297.0,377.5 298.9,373.9 300.1,365.7 301.3,349.1 302.5,336.1 303.2,332.6 304.1,339.6 305.3,351.5 306.7,363.3 307.9,370.9 309.3,376.3 311.2,389.3 313.1,398.8 314.5,408.2 315.5,420.1 316.4,430.0 317.4,420.1 318.3,408.2 319.3,398.3 320.2,410.6 321.1,422.9 322.1,410.6 323.3,398.8 325.4,385.8 327.3,376.3 329.2,371.6 330.6,373.9 332.3,375.1 334.4,374.2 336.8,372.8 338.2,366.8 339.6,356.2 341.0,344.4 342.2,338.0 343.1,342.0 344.3,351.5 345.7,363.3 347.4,375.1 349.1,385.8 350.9,390.5 351.9,395.2 353.3,410.6 354.5,424.8 355.4,433.5 356.4,422.4 357.6,408.2 358.5,402.3 359.5,415.3 360.6,433.5 361.6,422.4 362.8,405.9 364.4,389.3 366.1,376.3 367.7,366.8 368.9,363.3 370.1,369.2 371.6,376.3 373.2,378.7 375.1,378.7 376.8,377.0 377.9,369.2 379.1,353.8 380.3,339.6 381.2,333.0 382.2,338.5 383.4,349.1 385.0,363.3 386.4,375.1 387.9,386.9 389.3,397.6 390.9,405.9 392.1,415.3 393.3,427.1 394.5,435.4 395.4,424.8 396.4,410.6 397.6,398.8 398.5,410.6 399.7,435.4 400.6,422.4 401.8,403.5 403.5,386.9 404.9,376.3 406.3,371.6 407.5,366.1 408.4,364.9 409.4,369.2 410.6,375.1 412.0,378.7 413.6,377.5 415.3,375.6 416.5,368.0 417.7,356.2 418.8,342.0 420.0,330.2 420.7,325.5 421.7,332.6 422.9,346.7 424.3,360.9 425.7,375.1 427.1,389.3 428.5,398.8 430.0,402.3 430.9,410.6 431.9,422.4 433.0,433.1 434.0,422.4 435.2,408.2 436.6,400.7 437.5,415.3 438.5,431.9 439.2,440.1 440.1,429.5 441.3,410.6 443.0,391.7 444.6,377.5 446.0,366.8 447.5,359.8 448.4,358.6 449.4,363.3 450.5,370.4 451.9,373.9 453.6,375.1 455.0,372.8 456.2,360.9 457.4,344.4 458.6,330.2 459.8,321.9 460.7,330.2 461.9,346.7 463.1,360.9 464.2,369.2"/>
<rect x="52.70" y="285.50" width="411.70" height="186.40" fill="none" stroke="#1c1c1c" stroke-width="1"/>
<line x1="135.04" y1="471.90" x2="135.04" y2="468.10" stroke="#1c1c1c" stroke-width="1" shape-rendering="crispEdges"/>
<line x1="135.04" y1="285.50" x2="135.04" y2="289.30" stroke="#1c1c1c" stroke-width="1" shape-rendering="crispEdges"/>
<line x1="217.38" y1="471.90" x2="217.38" y2="468.10" stroke="#1c1c1c" stroke-width="1" shape-rendering="crispEdges"/>
<line x1="217.38" y1="285.50" x2="217.38" y2="289.30" stroke="#1c1c1c" stroke-width="1" shape-rendering="crispEdges"/>
<line x1="299.72" y1="471.90" x2="299.72" y2="468.10" stroke="#1c1c1c" stroke-width="1" shape-rendering="crispEdges"/>
<line x1="299.72" y1="285.50" x2="299.72" y2="289.30" stroke="#1c1c1c" stroke-width="1" shape-rendering="crispEdges"/>
<line x1="382.06" y1="471.90" x2="382.06" y2="468.10" stroke="#1c1c1c" stroke-width="1" shape-rendering="crispEdges"/>
<line x1="382.06" y1="285.50" x2="382.06" y2="289.30" stroke="#1c1c1c" stroke-width="1" shape-rendering="crispEdges"/>
<line x1="52.70" y1="316.57" x2="56.50" y2="316.57" stroke="#1c1c1c" stroke-width="1" shape-rendering="crispEdges"/>
<line x1="464.40" y1="316.57" x2="460.60" y2="316.57" stroke="#1c1c1c" stroke-width="1" shape-rendering="crispEdges"/>
<line x1="52.70" y1="347.63" x2="56.50" y2="347.63" stroke="#1c1c1c" stroke-width="1" shape-rendering="crispEdges"/>
<line x1="464.40" y1="347.63" x2="460.60" y2="347.63" stroke="#1c1c1c" stroke-width="1" shape-rendering="crispEdges"/>
<line x1="52.70" y1="378.70" x2="56.50" y2="378.70" stroke="#1c1c1c" stroke-width="1" shape-rendering="crispEdges"/>
<line x1="464.40" y1="378.70" x2="460.60" y2="378.70" stroke="#1c1c1c" stroke-width="1" shape-rendering="crispEdges"/>
<line x1="52.70" y1="409.77" x2="56.50" y2="409.77" stroke="#1c1c1c" stroke-width="1" shape-rendering="crispEdges"/>
<line x1="464.40" y1="409.77" x2="460.60" y2="409.77" stroke="#1c1c1c" stroke-width="1" shape-rendering="crispEdges"/>
<line x1="52.70" y1="440.83" x2="56.50" y2="440.83" stroke="#1c1c1c" stroke-width="1" shape-rendering="crispEdges"/>
<line x1="464.40" y1="440.83" x2="460.60" y2="440.83" stroke="#1c1c1c" stroke-width="1" shape-rendering="crispEdges"/>
<text x="52.70" y="489.50" font-size="16.50" text-anchor="middle">0.0</text>
<text x="135.04" y="489.50" font-size="16.50" text-anchor="middle">0.1</text>
<text x="217.38" y="489.50" font-size="16.50" text-anchor="middle">0.2</text>
<text x="299.72" y="489.50" font-size="16.50" text-anchor="middle">0.3</text>
<text x="382.06" y="489.50" font-size="16.50" text-anchor="middle">0.4</text>
<text x="464.40" y="489.50" font-size="16.50" text-anchor="middle">0.5</text>
<text x="48.30" y="290.88" font-size="16.50" text-anchor="end">1.5</text>
<text x="48.30" y="321.94" font-size="16.50" text-anchor="end">1.0</text>
<text x="48.30" y="353.01" font-size="16.50" text-anchor="end">0.5</text>
<text x="48.30" y="384.08" font-size="16.50" text-anchor="end">0.0</text>
<text x="48.30" y="415.14" font-size="16.50" text-anchor="end">-0.5</text>
<text x="48.30" y="446.21" font-size="16.50" text-anchor="end">-1.0</text>
<text x="48.30" y="477.28" font-size="16.50" text-anchor="end">-1.5</text>
<text x="259.30" y="515.30" font-size="16.50" text-anchor="middle">Time (s)</text>
<text transform="translate(16.80 378.10) rotate(-90)" font-size="16.50" text-anchor="middle">Acceleration (g)</text>
<text x="240.00" y="542.70" font-size="15.70" text-anchor="middle">(<tspan font-weight="bold">b</tspan>)</text>
</svg></body></html>
